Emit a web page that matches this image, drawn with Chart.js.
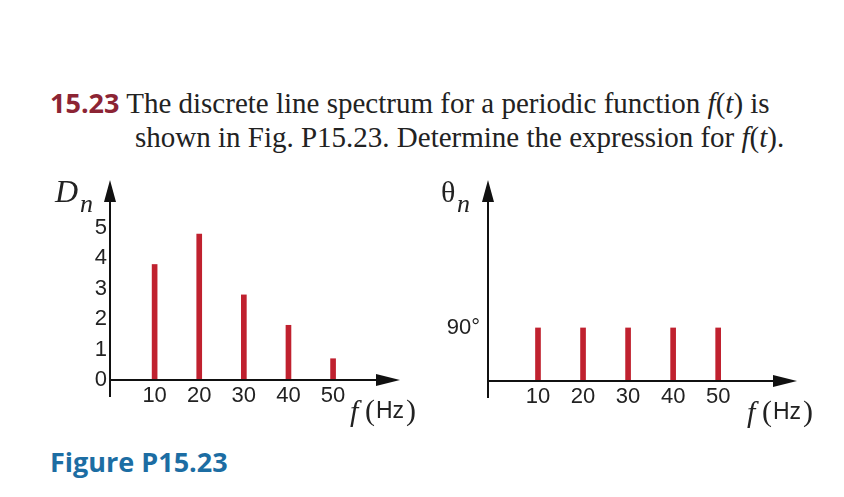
<!DOCTYPE html>
<html lang="en">
<head>
<meta charset="UTF-8">
<title>P15.23</title>
<script src="https://cdn.jsdelivr.net/npm/chart.js"></script>
<style>
  body { margin: 0; width: 844px; height: 497px; background: #fff; position: relative; overflow: hidden; }
  canvas { position: absolute; left: 0; top: 0; }
  .txt { position: absolute; font-family: "Liberation Serif", serif; font-size: 29px; color: #222; white-space: nowrap; }
  .num { font-family: "Open Sans", sans-serif; font-weight: bold; color: #8c2434; font-size: 27px; }
  .fig { position: absolute; left: 50px; top: 443px; font-family: "Open Sans", sans-serif; font-weight: bold; color: #1c6da3; font-size: 27px; }
</style>
</head>
<body>
<div class="txt" style="left:50px;top:84px"><span class="num">15.23</span> The discrete line spectrum for a periodic function <i>f</i>(<i>t</i>) is</div>
<div class="txt" style="left:135px;top:121px">shown in Fig. P15.23. Determine the expression for <i>f</i>(<i>t</i>).</div>
<div class="fig">Figure P15.23</div>
<canvas id="left" width="844" height="497"></canvas>
<canvas id="right" width="844" height="497"></canvas>
<script>
const freqs = [10, 20, 30, 40, 50];
const amplitudes = [3.8, 4.8, 2.8, 1.8, 0.7];
const phases = [90, 90, 90, 90, 90];
const ampTicks = [0, 1, 2, 3, 4, 5];
const red = '#c0212f';

function axesPlugin(opts) {
  return {
    id: 'axes',
    afterDraw(chart) {
      const ctx = chart.ctx, x = chart.scales.x, y = chart.scales.y;
      const x0 = x.left, y0 = y.getPixelForValue(0);
      ctx.save();
      ctx.strokeStyle = '#111'; ctx.fillStyle = '#111'; ctx.lineWidth = 2;
      ctx.beginPath();
      ctx.moveTo(x0, y0 + 17); ctx.lineTo(x0, y.top + 14);
      ctx.moveTo(x0, y0); ctx.lineTo(x.right - 18, y0);
      ctx.stroke();
      ctx.beginPath();
      ctx.moveTo(x0, y.top); ctx.lineTo(x0 - 6, y.top + 22); ctx.lineTo(x0 + 6, y.top + 22); ctx.fill();
      ctx.beginPath();
      ctx.moveTo(x.right, y0); ctx.lineTo(x.right - 24, y0 - 6); ctx.lineTo(x.right - 24, y0 + 6); ctx.fill();
      ctx.font = '22px "Liberation Sans", sans-serif';
      ctx.fillStyle = '#222';
      ctx.textAlign = 'center'; ctx.textBaseline = 'top';
      freqs.forEach(f => ctx.fillText(String(f), x.getPixelForValue(f), y0 + 5));
      ctx.textAlign = 'right'; ctx.textBaseline = 'middle';
      opts.yTicks.forEach(t => ctx.fillText(t.label, x0 - opts.yLabelGap, y.getPixelForValue(t.v)));
      // axis titles
      ctx.textAlign = 'left'; ctx.textBaseline = 'alphabetic';
      const fx = opts.fx;
      ctx.font = 'italic 30px "Liberation Serif", serif';
      ctx.fillText('f', fx, y0 + 41);
      ctx.font = '30px "Liberation Serif", serif';
      ctx.fillText('(', fx + 15, y0 + 40);
      ctx.font = '23px "Liberation Sans", sans-serif';
      ctx.fillText('Hz', fx + 26, y0 + 38);
      ctx.font = '30px "Liberation Serif", serif';
      ctx.fillText(')', fx + 56, y0 + 40);
      ctx.font = opts.titleFont;
      ctx.fillText(opts.title, opts.tx, y.top + 22);
      ctx.font = 'italic 26px "Liberation Serif", serif';
      ctx.fillText('n', opts.tx + opts.subShift, y.top + 32);
      ctx.restore();
    }
  };
}

function makeChart(id, data, pad, xr, yr, opts) {
  new Chart(document.getElementById(id), {
    type: 'bar',
    data: { datasets: [{ data: freqs.map((f, i) => ({ x: f, y: data[i] })), backgroundColor: red, barThickness: 5 }] },
    options: {
      responsive: false, animation: false,
      layout: { padding: pad },
      plugins: { legend: { display: false }, tooltip: { enabled: false } },
      scales: {
        x: { type: 'linear', offset: false, min: xr[0], max: xr[1], display: false },
        y: { min: yr[0], max: yr[1], display: false }
      }
    },
    plugins: [axesPlugin(opts)]
  });
}

makeChart('left', amplitudes, { left: 110, right: 444, top: 180, bottom: 117 }, [0, 65], [0, 6.58], {
  yTicks: ampTicks.map(v => ({ v, label: String(v) })), yLabelGap: 3, xLabelShift: 0,
  fx: 350, title: 'D', tx: 55, subShift: 25, titleFont: 'italic 32px "Liberation Serif", serif'
});
makeChart('right', phases, { left: 488, right: 47, top: 180, bottom: 116 }, [-1.1, 67.5], [0, 341], {
  yTicks: [{ v: 90, label: '90°' }], yLabelGap: 8, xLabelShift: 0,
  fx: 747, title: 'θ', tx: 441, subShift: 16, titleFont: '30px "Liberation Serif", serif'
});
</script>
</body>
</html>
